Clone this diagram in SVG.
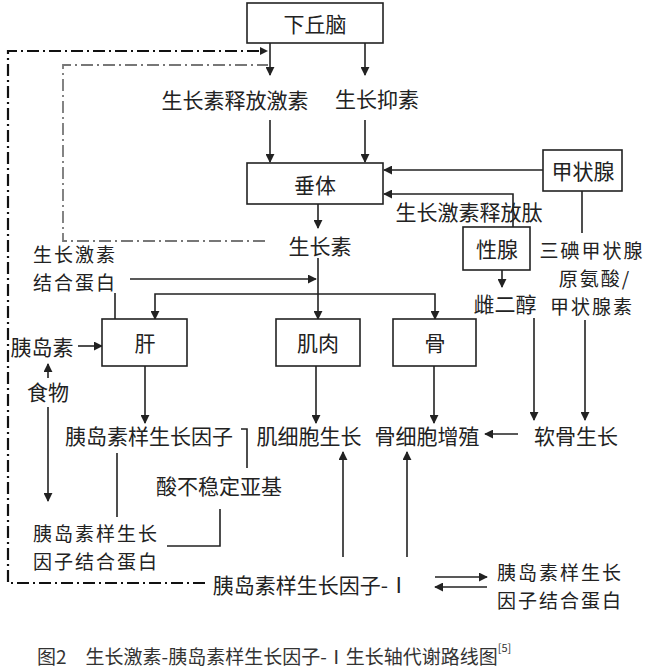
<svg xmlns="http://www.w3.org/2000/svg" width="651" height="667" viewBox="0 0 651 667">
<defs>
<marker id="ah" viewBox="0 0 10 10" refX="9" refY="5" markerWidth="9" markerHeight="9" markerUnits="userSpaceOnUse" orient="auto">
<path d="M0,0 L10,5 L0,10 z" fill="#222"/>
</marker>
</defs>
<style>
text{font-family:"Noto Sans CJK SC","Noto Sans",sans-serif;font-size:21px;fill:#222;text-anchor:middle;dominant-baseline:central}
text.ml{font-size:19px;letter-spacing:2px}
.box{fill:#fff;stroke:#222;stroke-width:1.6}
.ln{fill:none;stroke:#222;stroke-width:1.6}
.ar{fill:none;stroke:#222;stroke-width:1.6;marker-end:url(#ah)}
.dd1{fill:none;stroke:#111;stroke-width:2.2;stroke-dasharray:12 4 2 4}
.dd2{fill:none;stroke:#777;stroke-width:1.8;stroke-dasharray:12 4 2 4}
.cap{font-size:19px;fill:#333}
</style>
<rect width="651" height="667" fill="#fff"/>

<g id="connectors">
<path class="dd1" d="M205,583 H8 V51 H262"/>
<path d="M260,47 L268,51 L260,55 z" fill="#222"/>
<path class="dd2" d="M265,241 H63 V65 H268"/>
<path class="ar" d="M270,43 V75"/>
<path class="ar" d="M365,43 V75"/>
<path class="ar" d="M270,120 V162"/>
<path class="ar" d="M365,120 V162"/>
<path class="ar" d="M543,170 H384"/>
<path class="ar" d="M513,227 V194 H384"/>
<path class="ln" d="M582,191 V233"/>
<path class="ar" d="M585,320 V420"/>
<path class="ar" d="M502,270 V287"/>
<path class="ar" d="M534,318 V420"/>
<path class="ar" d="M318,204 V228"/>
<path class="ar" d="M318,258 V319"/>
<path class="ar" d="M318,294 H155 V319"/>
<path class="ar" d="M318,294 H435 V319"/>
<path class="ar" d="M130,279 H316"/>
<path class="ln" d="M115,293 V319"/>
<path class="ar" d="M78,346 H102"/>
<path class="ar" d="M48,378 V364"/>
<path class="ar" d="M48,407 V501"/>
<path class="ar" d="M145,366 V423"/>
<path class="ar" d="M316,366 V423"/>
<path class="ar" d="M434,366 V423"/>
<path class="ar" d="M518,434 H485"/>
<path class="ln" d="M241,429 H247 V468"/>
<path class="ln" d="M117,453 V517"/>
<path class="ln" d="M220,509 V546 H167"/>
<path class="ar" d="M343,557 V452"/>
<path class="ar" d="M407,557 V452"/>
<path class="ar" d="M435,577 H487"/>
<path class="ar" d="M487,587 H435"/>
</g>

<g id="hypothalamus"><rect class="box" x="247" y="3" width="136" height="40"/><text x="315" y="23">下丘脑</text></g>
<g id="ghrh"><text x="235" y="99">生长素释放激素</text></g>
<g id="somatostatin"><text x="377" y="98">生长抑素</text></g>
<g id="pituitary"><rect class="box" x="247" y="163" width="136" height="41"/><text x="315" y="184">垂体</text></g>
<g id="thyroid"><rect class="box" x="543" y="150" width="79" height="41"/><text x="583" y="170">甲状腺</text></g>
<g id="ghrp"><text x="469" y="211">生长激素释放肽</text></g>
<g id="gonad"><rect class="box" x="463" y="227" width="67" height="43"/><text x="497" y="248">性腺</text></g>
<g id="t3t4"><text class="ml" x="592" y="249">三碘甲状腺<tspan x="595" dy="28">原氨酸/</tspan><tspan x="592" dy="28">甲状腺素</tspan></text></g>
<g id="estradiol"><text x="505" y="303">雌二醇</text></g>
<g id="gh"><text x="320" y="245">生长素</text></g>
<g id="ghbp"><text class="ml" x="75" y="253">生长激素<tspan x="75" dy="28">结合蛋白</tspan></text></g>
<g id="liver"><rect class="box" x="102" y="319" width="85" height="47"/><text x="145" y="342">肝</text></g>
<g id="muscle"><rect class="box" x="276" y="319" width="84" height="47"/><text x="318" y="342">肌肉</text></g>
<g id="bone"><rect class="box" x="393" y="319" width="83" height="47"/><text x="435" y="342">骨</text></g>
<g id="insulin"><text x="42" y="346">胰岛素</text></g>
<g id="food"><text x="48" y="391">食物</text></g>
<g id="igf"><text x="149" y="435">胰岛素样生长因子</text></g>
<g id="musclegrowth"><text x="309" y="435">肌细胞生长</text></g>
<g id="boneprolif"><text x="427" y="435">骨细胞增殖</text></g>
<g id="cartilage"><text x="576" y="435">软骨生长</text></g>
<g id="als"><text x="219" y="485">酸不稳定亚基</text></g>
<g id="igfbp-left"><text class="ml" x="96" y="532">胰岛素样生长<tspan x="96" dy="28">因子结合蛋白</tspan></text></g>
<g id="igf1"><text x="311" y="584">胰岛素样生长因子-Ⅰ</text></g>
<g id="igfbp-right"><text class="ml" x="560" y="571">胰岛素样生长<tspan x="560" dy="28">因子结合蛋白</tspan></text></g>

<text class="cap" x="37" y="655" style="text-anchor:start">图2　生长激素-胰岛素样生长因子-Ⅰ生长轴代谢路线图<tspan font-size="11" dy="-8">[5]</tspan></text>
</svg>
